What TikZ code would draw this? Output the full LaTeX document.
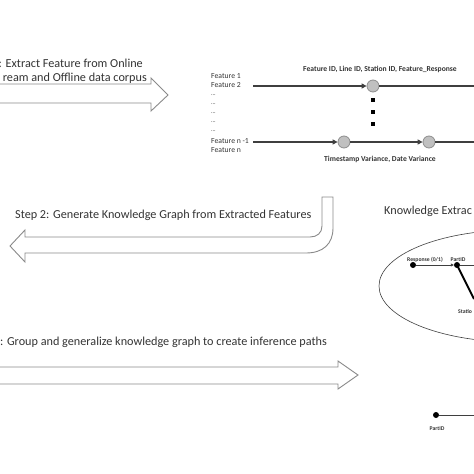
\documentclass[tikz,border=0pt]{standalone}
\usepackage{fontspec}
\setmainfont{Carlito}
\usetikzlibrary{arrows.meta}
\definecolor{textgray}{HTML}{333333}
\definecolor{arrowgray}{HTML}{8A8A8A}
\definecolor{linegray}{HTML}{3F3F3F}
\definecolor{nodefill}{HTML}{C0C0C0}
\definecolor{nodeedge}{HTML}{8E8E8E}
\tikzset{
  bigarrow/.style={draw=arrowgray, line width=0.9pt, fill=white, line join=miter},
  featline/.style={draw=linegray, line width=1.3pt},
  featarrow/.style={featline, -{Triangle[length=5pt,width=5pt]}},
  fnode/.style={circle, fill=nodefill, draw=nodeedge, line width=0.8pt, minimum size=12pt, inner sep=0pt},
  sqdot/.style={rectangle, fill=black, minimum size=3.5pt, inner sep=0pt},
  flabel/.style={font=\fontsize{7.7}{8}\selectfont, text=textgray, anchor=west, inner sep=0pt},
  blabel/.style={font=\bfseries\fontsize{7.6}{8}\selectfont, text=textgray, inner sep=0pt},
  steptext/.style={font=\fontsize{12.2}{14}\selectfont, text=textgray, inner sep=0pt},
  kdot/.style={circle, fill=black, minimum size=6pt, inner sep=0pt},
  klabel/.style={font=\bfseries\fontsize{5.7}{6}\selectfont, text=textgray, inner sep=0pt},
}
\begin{document}
\begin{tikzpicture}[x=1pt,y=-1pt]
\useasboundingbox (0,0) rectangle (474,474);
\begin{scope}
\clip (0,0) rectangle (474,474);
% Step 1 arrow
\draw[bigarrow] (0,84) -- (151,84) -- (151,78) -- (168,95) -- (151,111) -- (151,103) -- (0,103);
\node[steptext, anchor=east] (s1a) at (143,63) {: Extract Feature from Online};
\node[steptext, anchor=east] (s1b) at (147,78) {ream and Offline data corpus};

% Features panel
\node[flabel] (f1) at (211,76) {Feature 1};
\node[flabel] (f2) at (211,85) {Feature 2};
\foreach \yy/\nn in {95/d1,104/d2,113/d3,122/d4,131/d5}{
  \node[flabel, font=\fontsize{6}{6}\selectfont] (\nn) at (211,\yy) {...};
}
\node[flabel] (fn1) at (211,141) {Feature n -1};
\node[flabel] (fn) at (211,150) {Feature n};

\coordinate (t0) at (253,86);
\coordinate (tE) at (474,86);
\coordinate (b0) at (253,142);
\coordinate (bE) at (474,142);
\node[fnode] (c1) at (373,86) {};
\node[fnode] (c2) at (344,142) {};
\node[fnode] (c3) at (429,142) {};
\draw[featarrow] (t0) -- (c1);
\draw[featline] (c1) -- (tE);
\draw[featarrow] (b0) -- (c2);
\draw[featarrow] (c2) -- (c3);
\draw[featline] (c3) -- (bE);
\node[sqdot] (q1) at (373,100) {};
\node[sqdot] (q2) at (373,112) {};
\node[sqdot] (q3) at (373,124) {};
\node[blabel] (lt) at (380,69) {Feature ID, Line ID, Station ID, Feature\_Response};
\node[blabel] (lb) at (380,159) {Timestamp Variance, Date Variance};

% Step 2 arrow
\draw[bigarrow] (25,230) -- (10,246) -- (25,262) -- (25,253) -- (306,253)
  .. controls (323,253) and (333,244) .. (333,228) -- (333,197) -- (322,197) -- (322,226)
  .. controls (322,233) and (317,237) .. (310,237) -- (25,237) -- cycle;
\node[steptext, anchor=west] (s2) at (15,215) {Step 2: Generate Knowledge Graph from Extracted Features};

% Knowledge extraction
\node[steptext, anchor=west] (ke) at (384,211) {Knowledge Extrac};
\draw[draw=linegray, line width=0.6pt] (515,286) ellipse [x radius=136, y radius=56];
\node[kdot] (resp) at (413,265) {};
\node[kdot] (pid) at (457,265) {};
\coordinate (pE) at (474,265);
\coordinate (sE) at (474,299);
\draw[draw=linegray, line width=0.6pt, -{Triangle[length=3pt,width=3pt]}] (resp) -- (pid);
\draw[draw=linegray, line width=0.6pt] (pid) -- (pE);
\draw[draw=black, line width=2pt] (pid.center) -- (sE);
\node[klabel] (lr) at (425,260) {Response (0/1)};
\node[klabel] (lp) at (458,260) {PartID};
\node[klabel, anchor=west] (ls) at (458,312) {Statio};

% Step 3 arrow
\draw[bigarrow] (0,367) -- (338,367) -- (338,361) -- (358,375) -- (338,389) -- (338,384) -- (0,384);
\node[steptext, anchor=east] (s3) at (327,342) {: Group and generalize knowledge graph to create inference paths};

% Bottom fragment
\node[kdot] (bp) at (436,415) {};
\coordinate (bpE) at (474,415);
\draw[draw=linegray, line width=0.6pt] (bp) -- (bpE);
\node[klabel] (lbp) at (437,429) {PartID};
\end{scope}
\end{tikzpicture}
\end{document}
